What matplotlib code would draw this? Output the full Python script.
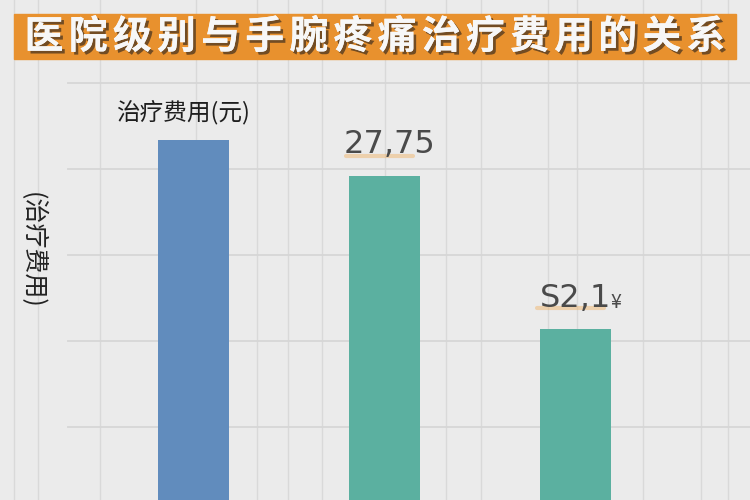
import numpy as np
import matplotlib.pyplot as plt
import matplotlib.patheffects as pe
from matplotlib.patches import Rectangle

plt.rcParams['font.family'] = ['Noto Sans CJK SC', 'DejaVu Sans']

# data
title = "医院级别与手腕疼痛治疗费用的关系"
categories = ["三级医院", "二级医院", "一级医院"]
costs = [433, 391, 214]
bar_colors = ["#618cbd", "#5bb0a0", "#5bb0a0"]
value_labels = ["治疗费用(元)", "27,75", "S2,1"]
ylabel = "(治疗费用)"

bg = "#ebebeb"
fig = plt.figure(figsize=(7.5, 5), dpi=100, facecolor=bg)
ax = fig.add_axes([0, 0, 1, 1])
ax.set_facecolor(bg)

x = np.arange(len(categories))
ax.set_xlim(-1.013, 2.914)
ax.set_ylim(15, 596)

# irregular vertical grid (pixel columns of the background)
vlines = [14, 38, 100, 196, 257, 288, 322, 385, 446, 481, 548, 577, 643, 701, 728]
for v in vlines:
    ax.plot([v / 750, v / 750], [0, 1], transform=ax.transAxes, color="#d9d9d9", lw=1, zorder=0)
for yv in [100, 200, 300, 400, 500]:
    ax.axhline(yv, xmin=0.09, color="#d6d6d6", lw=1.3, zorder=0.5)

ax.bar(x, costs, width=0.372, color=bar_colors, zorder=2)

# labels above the bars
sizes = [17, 23, 23]
colors = ["#1e1e1e", "#4a4a4a", "#4a4a4a"]
dx = [-11, 5, 0]
dy = [28, 32, 30]
for i, (lab, v) in enumerate(zip(value_labels, costs)):
    fam = ['Noto Sans CJK SC'] if i == 0 else ['DejaVu Sans']
    ax.annotate(lab, (x[i], v), xytext=(dx[i], dy[i]), textcoords="offset pixels",
                ha="center", va="center", fontsize=sizes[i], color=colors[i],
                family=fam, zorder=3)
    if i > 0:
        ax.plot([x[i] - 0.2, x[i] + 0.15], [v + 24, v + 24], color="#f0b060",
                alpha=0.45, lw=3, zorder=2.5, solid_capstyle="round")
ax.annotate("¥", (x[2], costs[2]), xytext=(40, 26), textcoords="offset pixels",
            ha="center", va="center", fontsize=14, color="#4a4a4a", zorder=3)

ax.text(32 / 750, 250 / 500, ylabel, transform=ax.transAxes, rotation=270,
        ha="center", va="center", fontsize=18, color="#222222")

# title banner
fig.patches.append(Rectangle((14 / 750, 1 - 59 / 500), 722 / 750, 45 / 500,
                             transform=fig.transFigure, color="#e8912e", zorder=5))
step = 706 / len(title)
for k, ch in enumerate(title):
    fig.text((22 + step * (k + 0.5)) / 750, 1 - 37 / 500, ch, ha="center", va="center",
             fontsize=28, fontweight="bold", color="#f7f7f7", zorder=6,
             path_effects=[pe.withSimplePatchShadow(offset=(2, -2), shadow_rgbFace="#4a3520", alpha=0.75),
                           pe.Normal()])

ax.set_xticks([])
ax.set_yticks([])
for s in ax.spines.values():
    s.set_visible(False)

fig.savefig("out.png", dpi=100, facecolor=bg)
